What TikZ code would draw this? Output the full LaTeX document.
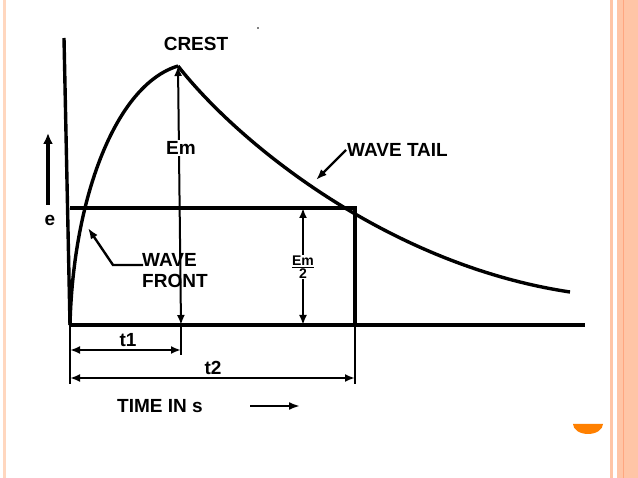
\documentclass[tikz,border=0pt]{standalone}
\usepackage{fontspec}
\setmainfont{Liberation Sans}
\usetikzlibrary{arrows.meta}
\begin{document}
\begin{tikzpicture}[x=1pt,y=-1pt,
  thick line/.style={line width=3.4pt},
  dim/.style={line width=2pt,{Latex[length=10pt,width=8pt]}-{Latex[length=10pt,width=8pt]}},
  lbl/.style={font=\bfseries\fontsize{19}{21}\selectfont,inner sep=1pt}]
\useasboundingbox (0,0) rectangle (638,478);
\fill[white] (0,0) rectangle (638,478);
% borders
\fill[red!25!orange!25] (3,0) rectangle (6,478);
\fill[red!30!orange!35] (610,0) rectangle (613,478);
\fill[red!30!orange!35] (617,0) rectangle (638,478);
\draw[red!40!orange!50,line width=0.8pt] (623,0) -- (623,478);
\fill[orange] (573,424) arc (180:360:15pt and 10pt) -- cycle;
\fill[black] (258,28) circle (0.8);
% axes
\coordinate (O) at (70,325);
\coordinate (top) at (64,38);
\draw[thick line] (top) -- (O);
\draw[thick line] (O) -- (585,325);
\coordinate (hl) at (70,208);
\coordinate (hr) at (355,208);
\draw[thick line] (hl) -- (hr) -- (355,325);
% curves
\coordinate (C) at (178,66);
\draw[thick line] (O) .. controls (73,200) and (115,85) .. (C);
\draw[thick line] (C) .. controls (240,145) and (390,265) .. (570,292);
% dimension lines
\draw[dim] (C) -- (181,325);
\node[lbl,fill=white] (em) at (181,148) {Em};
\draw[dim] (303,208) -- (303,325);
\node[lbl,fill=white,font=\bfseries\fontsize{14}{14}\selectfont,inner sep=0.5pt] (em2) at (303,267) {$\frac{\textbf{Em}}{\textbf{2}}$};
\draw[line width=2pt] (181,325) -- (181,355);
\draw[line width=2pt] (70,325) -- (70,384);
\draw[line width=2pt] (355,325) -- (355,384);
\draw[dim] (70,350) -- (181,350);
\draw[dim] (70,378) -- (355,378);
\node[lbl] (t1) at (128,340) {t1};
\node[lbl] (t2) at (213,368) {t2};
% labels
\node[lbl] (crest) at (196,44) {CREST};
\node[lbl,anchor=west] (tail) at (346,150) {WAVE TAIL};
\draw[line width=2.4pt,-{Latex[length=11pt,width=8pt]}] (tail.west) -- (316,180);
\node[lbl,align=left,anchor=north west] (front) at (141,252) {WAVE\\FRONT};
\draw[line width=2.4pt,-{Latex[length=11pt,width=8pt]}] (143,265) -- (113,265) -- (88,228);
\node[lbl] (e) at (50,220) {e};
\draw[line width=3.4pt,-{Latex[length=11pt,width=10pt]}] (48,205) -- (48,133);
\node[lbl,anchor=west] (time) at (116,406) {TIME IN s};
\draw[line width=2.4pt,-{Latex[length=11pt,width=8pt]}] (250,406) -- (300,406);
\end{tikzpicture}
\end{document}
